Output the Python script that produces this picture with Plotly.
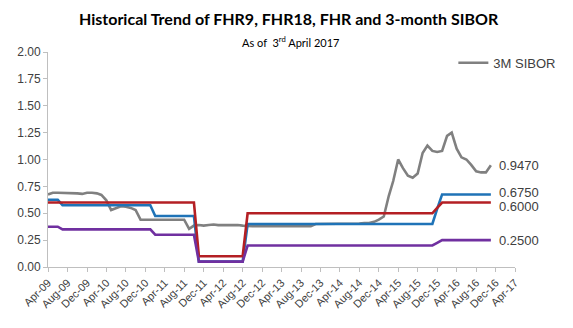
import pandas as pd
import plotly.graph_objects as go

# Monthly observations, Apr-2009 .. Nov-2016
months = pd.date_range("2009-04-01", "2016-11-01", freq="MS")

sibor_3m = [
    0.675, 0.69, 0.69, 0.69, 0.69, 0.69, 0.685, 0.68, 0.69, 0.69, 0.685, 0.67,
    0.62, 0.53, 0.55, 0.565, 0.56, 0.55, 0.53, 0.44, 0.44, 0.44, 0.44, 0.44,
    0.44, 0.44, 0.44, 0.44, 0.44, 0.355, 0.385, 0.39, 0.385, 0.39, 0.395, 0.39,
    0.39, 0.395, 0.39, 0.39, 0.385, 0.38, 0.38, 0.38, 0.38, 0.375, 0.375, 0.375,
    0.375, 0.375, 0.375, 0.375, 0.375, 0.375, 0.38, 0.40, 0.40, 0.40, 0.40, 0.40,
    0.40, 0.40, 0.40, 0.405, 0.405, 0.41, 0.41, 0.42, 0.44, 0.47, 0.66, 0.80,
    1.00, 0.92, 0.85, 0.83, 0.87, 1.06, 1.13, 1.08, 1.07, 1.08, 1.22, 1.25,
    1.10, 1.02, 1.00, 0.95, 0.89, 0.88, 0.88, 0.947,
]

fhr9 = [
    0.625, 0.625, 0.625, 0.575, 0.575, 0.575, 0.575, 0.575, 0.575, 0.575, 0.575, 0.575,
    0.575, 0.575, 0.575, 0.575, 0.575, 0.575, 0.575, 0.575, 0.575, 0.575, 0.475, 0.475,
    0.475, 0.475, 0.475, 0.475, 0.475, 0.475, 0.475, 0.05, 0.05, 0.05, 0.05, 0.05,
    0.05, 0.05, 0.05, 0.05, 0.05, 0.40, 0.40, 0.40, 0.40, 0.40, 0.40, 0.40,
    0.40, 0.40, 0.40, 0.40, 0.40, 0.40, 0.40, 0.40, 0.40, 0.40, 0.40, 0.40,
    0.40, 0.40, 0.40, 0.40, 0.40, 0.40, 0.40, 0.40, 0.40, 0.40, 0.40, 0.40,
    0.40, 0.40, 0.40, 0.40, 0.40, 0.40, 0.40, 0.40, 0.54, 0.675, 0.675, 0.675,
    0.675, 0.675, 0.675, 0.675, 0.675, 0.675, 0.675, 0.675,
]

fhr18 = [
    0.60, 0.60, 0.60, 0.60, 0.60, 0.60, 0.60, 0.60, 0.60, 0.60, 0.60, 0.60,
    0.60, 0.60, 0.60, 0.60, 0.60, 0.60, 0.60, 0.60, 0.60, 0.60, 0.60, 0.60,
    0.60, 0.60, 0.60, 0.60, 0.60, 0.60, 0.60, 0.10, 0.10, 0.10, 0.10, 0.10,
    0.10, 0.10, 0.10, 0.10, 0.10, 0.50, 0.50, 0.50, 0.50, 0.50, 0.50, 0.50,
    0.50, 0.50, 0.50, 0.50, 0.50, 0.50, 0.50, 0.50, 0.50, 0.50, 0.50, 0.50,
    0.50, 0.50, 0.50, 0.50, 0.50, 0.50, 0.50, 0.50, 0.50, 0.50, 0.50, 0.50,
    0.50, 0.50, 0.50, 0.50, 0.50, 0.50, 0.50, 0.50, 0.55, 0.60, 0.60, 0.60,
    0.60, 0.60, 0.60, 0.60, 0.60, 0.60, 0.60, 0.60,
]

fhr = [
    0.375, 0.375, 0.375, 0.35, 0.35, 0.35, 0.35, 0.35, 0.35, 0.35, 0.35, 0.35,
    0.35, 0.35, 0.35, 0.35, 0.35, 0.35, 0.35, 0.35, 0.35, 0.35, 0.30, 0.30,
    0.30, 0.30, 0.30, 0.30, 0.30, 0.30, 0.30, 0.05, 0.05, 0.05, 0.05, 0.05,
    0.05, 0.05, 0.05, 0.05, 0.05, 0.20, 0.20, 0.20, 0.20, 0.20, 0.20, 0.20,
    0.20, 0.20, 0.20, 0.20, 0.20, 0.20, 0.20, 0.20, 0.20, 0.20, 0.20, 0.20,
    0.20, 0.20, 0.20, 0.20, 0.20, 0.20, 0.20, 0.20, 0.20, 0.20, 0.20, 0.20,
    0.20, 0.20, 0.20, 0.20, 0.20, 0.20, 0.20, 0.20, 0.225, 0.25, 0.25, 0.25,
    0.25, 0.25, 0.25, 0.25, 0.25, 0.25, 0.25, 0.25,
]

# name, values, colour, in legend, vertical nudge of end label (px)
series = [
    ("3M SIBOR", sibor_3m, "#808080", True, 0),
    ("FHR9", fhr9, "#1F73B7", False, 2),
    ("FHR18", fhr18, "#B41F24", False, -4),
    ("FHR", fhr, "#7030A0", False, 0),
]

TEXT = "#404040"
AXIS = "#BFBFBF"
FONT = "Liberation Sans, Arial, sans-serif"

fig = go.Figure()
for name, vals, color, show, _ in series:
    fig.add_trace(go.Scatter(
        x=months, y=vals, mode="lines", name=name,
        line=dict(color=color, width=2.6), showlegend=show,
    ))

# end-of-line value labels
for name, vals, color, show, dy in series:
    fig.add_annotation(
        x=months[-1], y=vals[-1], xref="x", yref="y",
        text=f"{vals[-1]:.4f}", showarrow=False,
        xanchor="left", yanchor="middle", xshift=6, yshift=dy,
        font=dict(family=FONT, size=13, color=TEXT),
    )

fig.add_annotation(
    x=0.515, y=1.158, xref="paper", yref="paper", showarrow=False,
    text="<b>Historical Trend of FHR9, FHR18, FHR and 3-month SIBOR</b>",
    font=dict(family="Lato, sans-serif", size=16, color="#000000"),
    xanchor="center", yanchor="middle",
)
fig.add_annotation(
    x=0.52, y=1.051, xref="paper", yref="paper", showarrow=False,
    text="As of  3<sup>rd</sup> April 2017",
    font=dict(family="Lato, sans-serif", size=11, color="#000000"),
    xanchor="center", yanchor="middle",
)

fig.update_layout(
    width=573, height=328,
    margin=dict(l=48, r=42, t=52, b=61),
    paper_bgcolor="white", plot_bgcolor="white",
    showlegend=True,
    legend=dict(
        x=0.868, y=0.95, xanchor="left", yanchor="middle",
        bgcolor="rgba(0,0,0,0)", borderwidth=0,
        font=dict(family=FONT, size=13, color=TEXT),
    ),
)
fig.update_xaxes(
    type="date", range=["2009-04-01", "2017-04-01"],
    tick0="2009-04-01", dtick="M4", tickformat="%b-%y", tickangle=-45,
    showgrid=False, zeroline=False,
    showline=True, linecolor=AXIS, linewidth=1,
    ticks="outside", ticklen=4, tickcolor=AXIS,
    tickfont=dict(family=FONT, size=11, color=TEXT),
)
fig.update_yaxes(
    range=[0, 2], dtick=0.25, tickformat=".2f",
    showgrid=False, zeroline=False,
    showline=True, linecolor=AXIS, linewidth=1,
    ticks="outside", ticklen=4, tickcolor=AXIS,
    tickfont=dict(family=FONT, size=12, color=TEXT),
)

fig.write_html("out.html")
